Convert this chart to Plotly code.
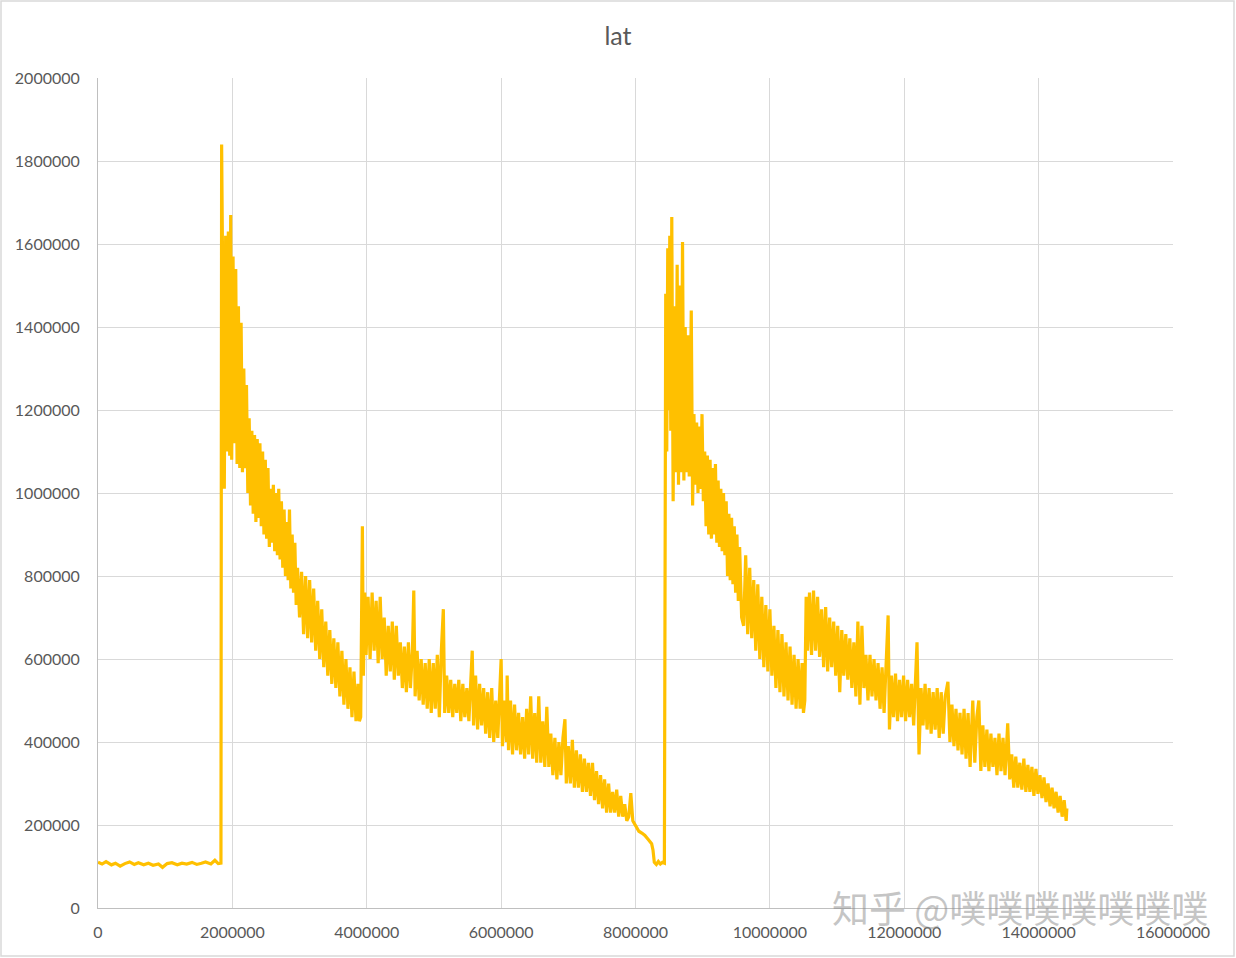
import plotly.graph_objects as go

# ---- data ----
base_x = [0, 60000, 120000, 200000, 260000, 330000, 400000, 470000, 540000, 600000, 680000, 750000,
          820000, 900000, 960000, 1030000, 1100000, 1180000, 1250000, 1320000, 1400000, 1470000,
          1540000, 1600000, 1680000, 1740000, 1790000, 1830000]
base_y = [110000, 106000, 112000, 104000, 108000, 101000, 107000, 111000, 105000, 109000, 104000, 108000,
          103000, 106000, 98000, 107000, 109000, 104000, 108000, 106000, 110000, 105000,
          108000, 111000, 106000, 115000, 107000, 108000]

run1_x = [1840000, 1860000, 1880000, 1900000, 1920000, 1940000, 1960000, 1975000, 1990000, 2010000,
          2030000, 2050000, 2070000, 2090000, 2110000, 2130000, 2150000, 2170000, 2190000, 2210000,
          2230000, 2250000, 2270000, 2290000, 2310000, 2330000, 2350000, 2370000, 2390000, 2410000,
          2430000, 2450000, 2470000, 2490000, 2510000, 2530000, 2550000, 2570000, 2590000, 2610000,
          2630000, 2650000, 2670000, 2690000, 2710000, 2730000, 2750000, 2770000, 2790000, 2810000,
          2830000, 2850000, 2870000, 2890000, 2910000, 2930000, 2950000, 2970000, 3000000, 3030000,
          3060000, 3090000, 3120000, 3150000, 3180000, 3210000, 3240000, 3270000, 3300000, 3330000,
          3360000, 3390000, 3420000, 3450000, 3480000, 3510000, 3540000, 3570000, 3600000, 3630000,
          3660000, 3690000, 3720000, 3750000, 3780000, 3810000, 3840000, 3870000, 3890000]
run1_y = [1840000, 1400000, 1010000, 1620000, 1100000, 1630000, 1090000, 1670000, 1080000, 1570000,
          1120000, 1540000, 1070000, 1450000, 1060000, 1410000, 1050000, 1300000, 1060000, 1260000,
          1000000, 1180000, 970000, 1150000, 950000, 1140000, 930000, 1130000, 940000, 1120000,
          920000, 1100000, 900000, 1080000, 890000, 1060000, 870000, 1010000, 880000, 1020000,
          860000, 1000000, 850000, 1010000, 840000, 980000, 820000, 960000, 800000, 930000,
          790000, 960000, 770000, 900000, 760000, 880000, 730000, 820000, 700000, 810000,
          660000, 800000, 650000, 790000, 640000, 770000, 620000, 740000, 600000, 720000,
          580000, 690000, 560000, 670000, 540000, 650000, 530000, 640000, 510000, 620000,
          490000, 600000, 480000, 580000, 460000, 570000, 450000, 540000, 450000]

run2_x = [3910000, 3920000, 3935000, 3950000, 3970000, 3990000, 4020000, 4050000, 4080000, 4110000,
          4140000, 4170000, 4200000, 4230000, 4260000, 4290000, 4320000, 4350000, 4380000, 4410000,
          4440000, 4470000, 4500000, 4530000, 4560000, 4590000, 4620000, 4650000, 4680000, 4700000,
          4720000, 4750000, 4780000, 4810000, 4840000, 4870000, 4900000, 4930000, 4960000, 4990000,
          5020000, 5050000, 5080000, 5110000, 5140000, 5160000, 5190000, 5220000, 5250000, 5280000,
          5310000, 5340000, 5370000, 5400000, 5430000, 5460000, 5490000, 5520000, 5550000, 5570000,
          5590000, 5620000, 5650000, 5680000, 5710000, 5740000, 5770000, 5800000, 5830000, 5860000,
          5890000, 5920000, 5950000, 5980000, 6000000, 6020000, 6050000, 6080000, 6090000, 6110000,
          6140000, 6170000, 6200000, 6230000, 6260000, 6290000, 6320000, 6350000, 6380000, 6410000,
          6440000, 6470000, 6500000, 6530000, 6560000, 6590000, 6620000, 6650000, 6680000, 6710000,
          6740000, 6770000, 6800000, 6830000, 6860000, 6890000, 6920000, 6950000, 6970000, 7000000,
          7030000, 7060000, 7090000, 7120000, 7150000, 7180000, 7210000, 7240000, 7270000, 7300000,
          7330000, 7360000, 7390000, 7420000, 7450000, 7480000, 7510000, 7540000, 7570000, 7600000,
          7630000, 7660000, 7690000, 7720000, 7750000, 7780000, 7810000, 7840000, 7870000, 7900000,
          7930000, 7960000, 8000000, 8050000, 8100000, 8140000, 8190000, 8240000, 8260000, 8280000,
          8310000, 8340000, 8370000, 8400000, 8430000]
run2_y = [460000, 720000, 920000, 560000, 760000, 610000, 750000, 600000, 760000, 620000,
          740000, 590000, 750000, 600000, 700000, 560000, 680000, 570000, 690000, 550000,
          680000, 560000, 640000, 530000, 630000, 520000, 640000, 530000, 620000, 765000,
          510000, 620000, 500000, 600000, 490000, 590000, 480000, 600000, 470000, 590000,
          480000, 610000, 460000, 620000, 720000, 470000, 560000, 470000, 550000, 460000,
          540000, 470000, 550000, 450000, 540000, 460000, 530000, 450000, 560000, 620000,
          440000, 560000, 430000, 540000, 440000, 530000, 420000, 520000, 410000, 530000,
          400000, 500000, 410000, 520000, 600000, 390000, 500000, 400000, 560000, 380000,
          500000, 370000, 490000, 380000, 470000, 370000, 460000, 360000, 480000, 370000,
          510000, 360000, 470000, 350000, 510000, 350000, 450000, 340000, 485000, 340000,
          420000, 320000, 410000, 310000, 400000, 320000, 410000, 455000, 300000, 390000,
          300000, 405000, 290000, 380000, 290000, 370000, 280000, 360000, 280000, 350000,
          270000, 350000, 260000, 330000, 250000, 320000, 240000, 310000, 230000, 300000,
          230000, 280000, 230000, 285000, 220000, 270000, 220000, 250000, 210000, 220000,
          277000, 210000, 200000, 185000, 180000, 175000, 165000, 155000, 140000, 110000,
          105000, 112000, 106000, 110000, 108000]

run3_x = [8440000, 8450000, 8465000, 8480000, 8495000, 8510000, 8525000, 8540000, 8560000, 8580000,
          8600000, 8620000, 8640000, 8660000, 8680000, 8700000, 8720000, 8740000, 8760000, 8780000,
          8800000, 8830000, 8850000, 8870000, 8890000, 8910000, 8930000, 8950000, 8970000, 8990000,
          9010000, 9030000, 9050000, 9070000, 9090000, 9110000, 9130000, 9150000, 9170000, 9190000,
          9210000, 9230000, 9250000, 9270000, 9290000, 9310000, 9330000, 9350000, 9370000, 9390000,
          9410000, 9430000, 9450000, 9470000, 9490000, 9510000, 9530000, 9550000, 9580000,
          9610000, 9640000, 9670000, 9700000, 9730000, 9760000, 9790000, 9820000, 9850000, 9880000,
          9910000, 9940000, 9970000, 10000000, 10030000, 10060000, 10090000, 10120000, 10150000, 10180000,
          10210000, 10240000, 10270000, 10300000, 10330000, 10360000, 10390000, 10420000, 10450000, 10480000,
          10500000]
run3_y = [600000, 1480000, 1100000, 1590000, 1200000, 1620000, 1150000, 1665000, 980000, 1450000,
          1050000, 1550000, 1020000, 1500000, 1050000, 1605000, 1030000, 1400000, 1050000, 1380000,
          1040000, 1440000, 970000, 1190000, 1020000, 1170000, 1000000, 1160000, 1010000, 1190000,
          980000, 1100000, 920000, 1090000, 900000, 1080000, 890000, 1060000, 900000, 1070000,
          880000, 1030000, 870000, 1010000, 860000, 1000000, 850000, 980000, 800000, 950000,
          790000, 940000, 780000, 920000, 760000, 900000, 740000, 870000, 700000,
          680000, 850000, 660000, 820000, 650000, 790000, 620000, 780000, 600000, 750000,
          580000, 730000, 570000, 720000, 560000, 680000, 530000, 670000, 520000, 660000,
          510000, 640000, 500000, 630000, 490000, 610000, 480000, 600000, 480000, 590000,
          470000]

run4_x = [10520000, 10540000, 10560000, 10590000, 10620000, 10650000, 10680000, 10710000, 10740000, 10770000,
          10800000, 10830000, 10860000, 10890000, 10920000, 10950000, 10980000, 11010000, 11040000, 11070000,
          11100000, 11130000, 11160000, 11190000, 11220000, 11250000, 11280000, 11310000, 11340000, 11370000,
          11400000, 11430000, 11460000, 11490000, 11520000, 11550000, 11580000, 11610000, 11640000, 11670000,
          11700000, 11730000, 11760000, 11780000, 11810000, 11840000, 11870000, 11900000, 11930000, 11960000,
          11990000, 12020000, 12050000, 12080000, 12110000, 12140000, 12170000, 12190000, 12220000, 12250000,
          12280000, 12310000, 12340000, 12370000, 12400000, 12430000, 12460000, 12490000, 12520000, 12550000,
          12580000, 12610000, 12650000, 12680000, 12710000, 12740000, 12770000, 12800000, 12830000, 12860000,
          12890000, 12920000, 12950000, 12980000, 13020000, 13050000, 13080000, 13110000, 13140000, 13170000,
          13200000, 13230000, 13260000, 13290000, 13320000, 13350000, 13380000, 13410000, 13440000, 13470000,
          13500000, 13540000, 13570000, 13600000, 13630000, 13660000, 13690000, 13720000, 13750000, 13780000,
          13810000, 13840000, 13870000, 13900000, 13930000, 13960000, 13990000, 14020000, 14050000, 14080000,
          14110000, 14140000, 14170000, 14200000, 14230000, 14260000, 14290000, 14320000, 14350000, 14380000,
          14410000, 14420000]
run4_y = [500000, 750000, 620000, 760000, 610000, 765000, 620000, 750000, 605000, 720000,
          580000, 725000, 570000, 700000, 580000, 690000, 560000, 680000, 520000, 670000,
          560000, 660000, 550000, 650000, 530000, 640000, 510000, 690000, 490000, 680000,
          530000, 610000, 500000, 610000, 510000, 600000, 500000, 590000, 480000, 580000,
          470000, 570000, 705000, 430000, 560000, 460000, 565000, 450000, 550000, 460000,
          560000, 450000, 550000, 460000, 540000, 440000, 560000, 640000, 370000, 530000,
          440000, 540000, 430000, 530000, 420000, 520000, 430000, 530000, 410000, 520000,
          420000, 510000, 545000, 400000, 490000, 390000, 480000, 380000, 470000, 370000,
          480000, 360000, 470000, 340000, 500000, 350000, 460000, 500000, 330000, 440000,
          340000, 430000, 330000, 420000, 340000, 410000, 320000, 420000, 330000, 410000,
          320000, 445000, 310000, 370000, 290000, 365000, 290000, 350000, 285000, 360000,
          280000, 345000, 280000, 340000, 270000, 335000, 275000, 320000, 265000, 315000,
          255000, 300000, 245000, 290000, 240000, 280000, 230000, 270000, 220000, 260000,
          210000, 240000]

x_ticks = [0, 2000000, 4000000, 6000000, 8000000, 10000000, 12000000, 14000000, 16000000]
y_ticks = [0, 200000, 400000, 600000, 800000, 1000000, 1200000, 1400000, 1600000, 1800000, 2000000]

title_text = "lat"
watermark_text = "知乎 @噗噗噗噗噗噗噗"

# ---- figure ----
xs = base_x + run1_x + run2_x + run3_x + run4_x
ys = base_y + run1_y + run2_y + run3_y + run4_y

fig = go.Figure()
fig.add_trace(go.Scatter(x=xs, y=ys, mode="lines",
                         line=dict(color="#FFC000", width=3.2), name="lat",
                         showlegend=False, hoverinfo="skip"))

W, H = 1236, 958
ml, mr, mt, mb = 98, 63, 78, 50
pw, ph = W - ml - mr, H - mt - mb

font_main = "Lato, 'Open Sans', sans-serif"
fig.update_layout(
    width=W, height=H,
    margin=dict(l=ml, r=mr, t=mt, b=mb, autoexpand=False),
    paper_bgcolor="white", plot_bgcolor="white",
    title=dict(text=title_text, x=0.5, xref="container", xanchor="center",
               y=1 - 36 / H, yref="container", yanchor="middle",
               font=dict(family=font_main, size=25, color="#595959")),
    font=dict(family=font_main, size=16, color="#595959"),
    xaxis=dict(range=[0, 16000000], tickvals=x_ticks, ticktext=[str(v) for v in x_ticks],
               showgrid=True, gridcolor="#D9D9D9", gridwidth=1,
               showline=True, linecolor="#BFBFBF", linewidth=1,
               zeroline=False, ticks="", ticklabelstandoff=10,
               tickfont=dict(family=font_main, size=16, color="#595959")),
    yaxis=dict(range=[0, 2000000], tickvals=y_ticks, ticktext=[str(v) for v in y_ticks],
               showgrid=True, gridcolor="#D9D9D9", gridwidth=1,
               showline=True, linecolor="#BFBFBF", linewidth=1,
               zeroline=False, ticks="", ticklabelstandoff=14,
               tickfont=dict(family=font_main, size=16, color="#595959")),
)

# chart area border (whole chart)
fig.add_shape(type="rect", xref="paper", yref="paper",
              x0=(1 - ml) / pw, x1=(W - 2 - ml) / pw,
              y0=(H - mb - (H - 2)) / ph, y1=(H - mb - 1) / ph,
              line=dict(color="#D9D9D9", width=1.5), fillcolor="rgba(0,0,0,0)", layer="below")

# watermark text
fig.add_annotation(text=watermark_text, xref="paper", yref="paper",
                   x=(830 - ml) / pw, y=(H - mb - 907) / ph, xanchor="left", yanchor="middle",
                   showarrow=False,
                   font=dict(family="Noto Sans CJK SC", size=37, color="rgba(140,140,140,0.5)"))

fig.write_html("out.html", config={"displayModeBar": False},
               post_script="document.body.style.margin='0';")
